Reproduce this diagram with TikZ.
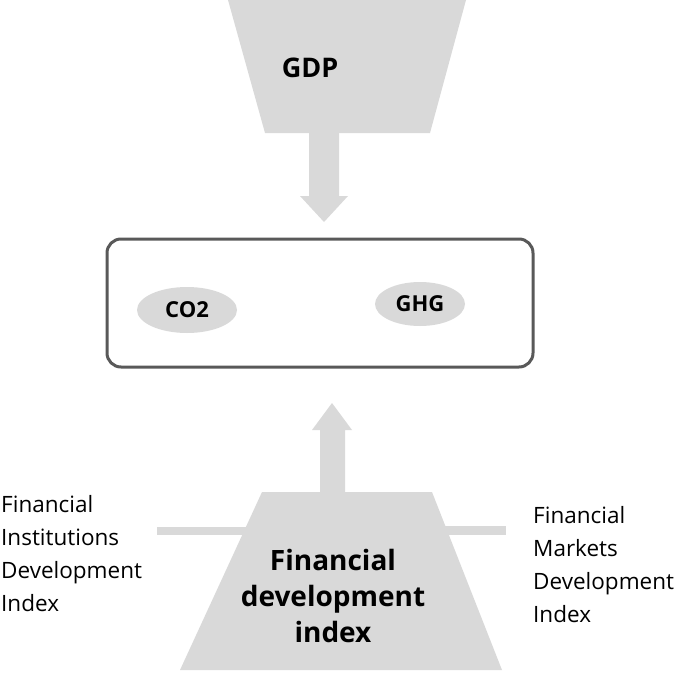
\documentclass[tikz,border=0pt]{standalone}
\usepackage{fontspec}
\setmainfont{Open Sans}
\usetikzlibrary{shapes.geometric}
\begin{document}
\begin{tikzpicture}[x=1pt,y=-1pt,
  oval/.style={ellipse,fill=black!15,draw=none,inner sep=0pt,font=\bfseries\fontsize{22}{24}\selectfont},
  side/.style={align=left,anchor=north west,font=\fontsize{22.5}{33}\selectfont,inner sep=0pt}]
\useasboundingbox (0,0) rectangle (685,677);
% GDP trapezoid
\fill[black!15] (228,0) -- (466,0) -- (430,133) -- (265,133) -- cycle;
\node[font=\bfseries\fontsize{27}{30}\selectfont] (gdp) at (310,68) {GDP};
% down arrow
\fill[black!15] (309,133) -- (339,133) -- (339,196) -- (348,196) -- (324,222) -- (300,196) -- (309,196) -- cycle;
% box
\node[draw=black!65,line width=3pt,rounded corners=14pt,minimum width=426pt,minimum height=128pt] (box) at (320,303) {};
\node[oval,minimum width=100pt,minimum height=46pt] (co2) at (187,310) {CO2};
\node[oval,minimum width=90pt,minimum height=44pt] (ghg) at (420,304) {GHG};
% up arrow
\fill[black!15] (320,492) -- (345,492) -- (345,430) -- (352,430) -- (332,403) -- (312,430) -- (320,430) -- cycle;
% side bars
\fill[black!15] (157,527) rectangle (265,535);
\fill[black!15] (428,526) rectangle (506,535);
% bottom trapezoid
\fill[black!15] (262,492) -- (432,492) -- (502,670) -- (180,670) -- cycle;
\node[align=center,font=\bfseries\fontsize{28}{36}\selectfont] (fdi) at (333,596) {Financial\\development\\index};
\node[side] (left) at (1,495) {Financial\\Institutions\\Development\\Index};
\node[side] (right) at (533,506) {Financial\\Markets\\Development\\Index};
\end{tikzpicture}
\end{document}
